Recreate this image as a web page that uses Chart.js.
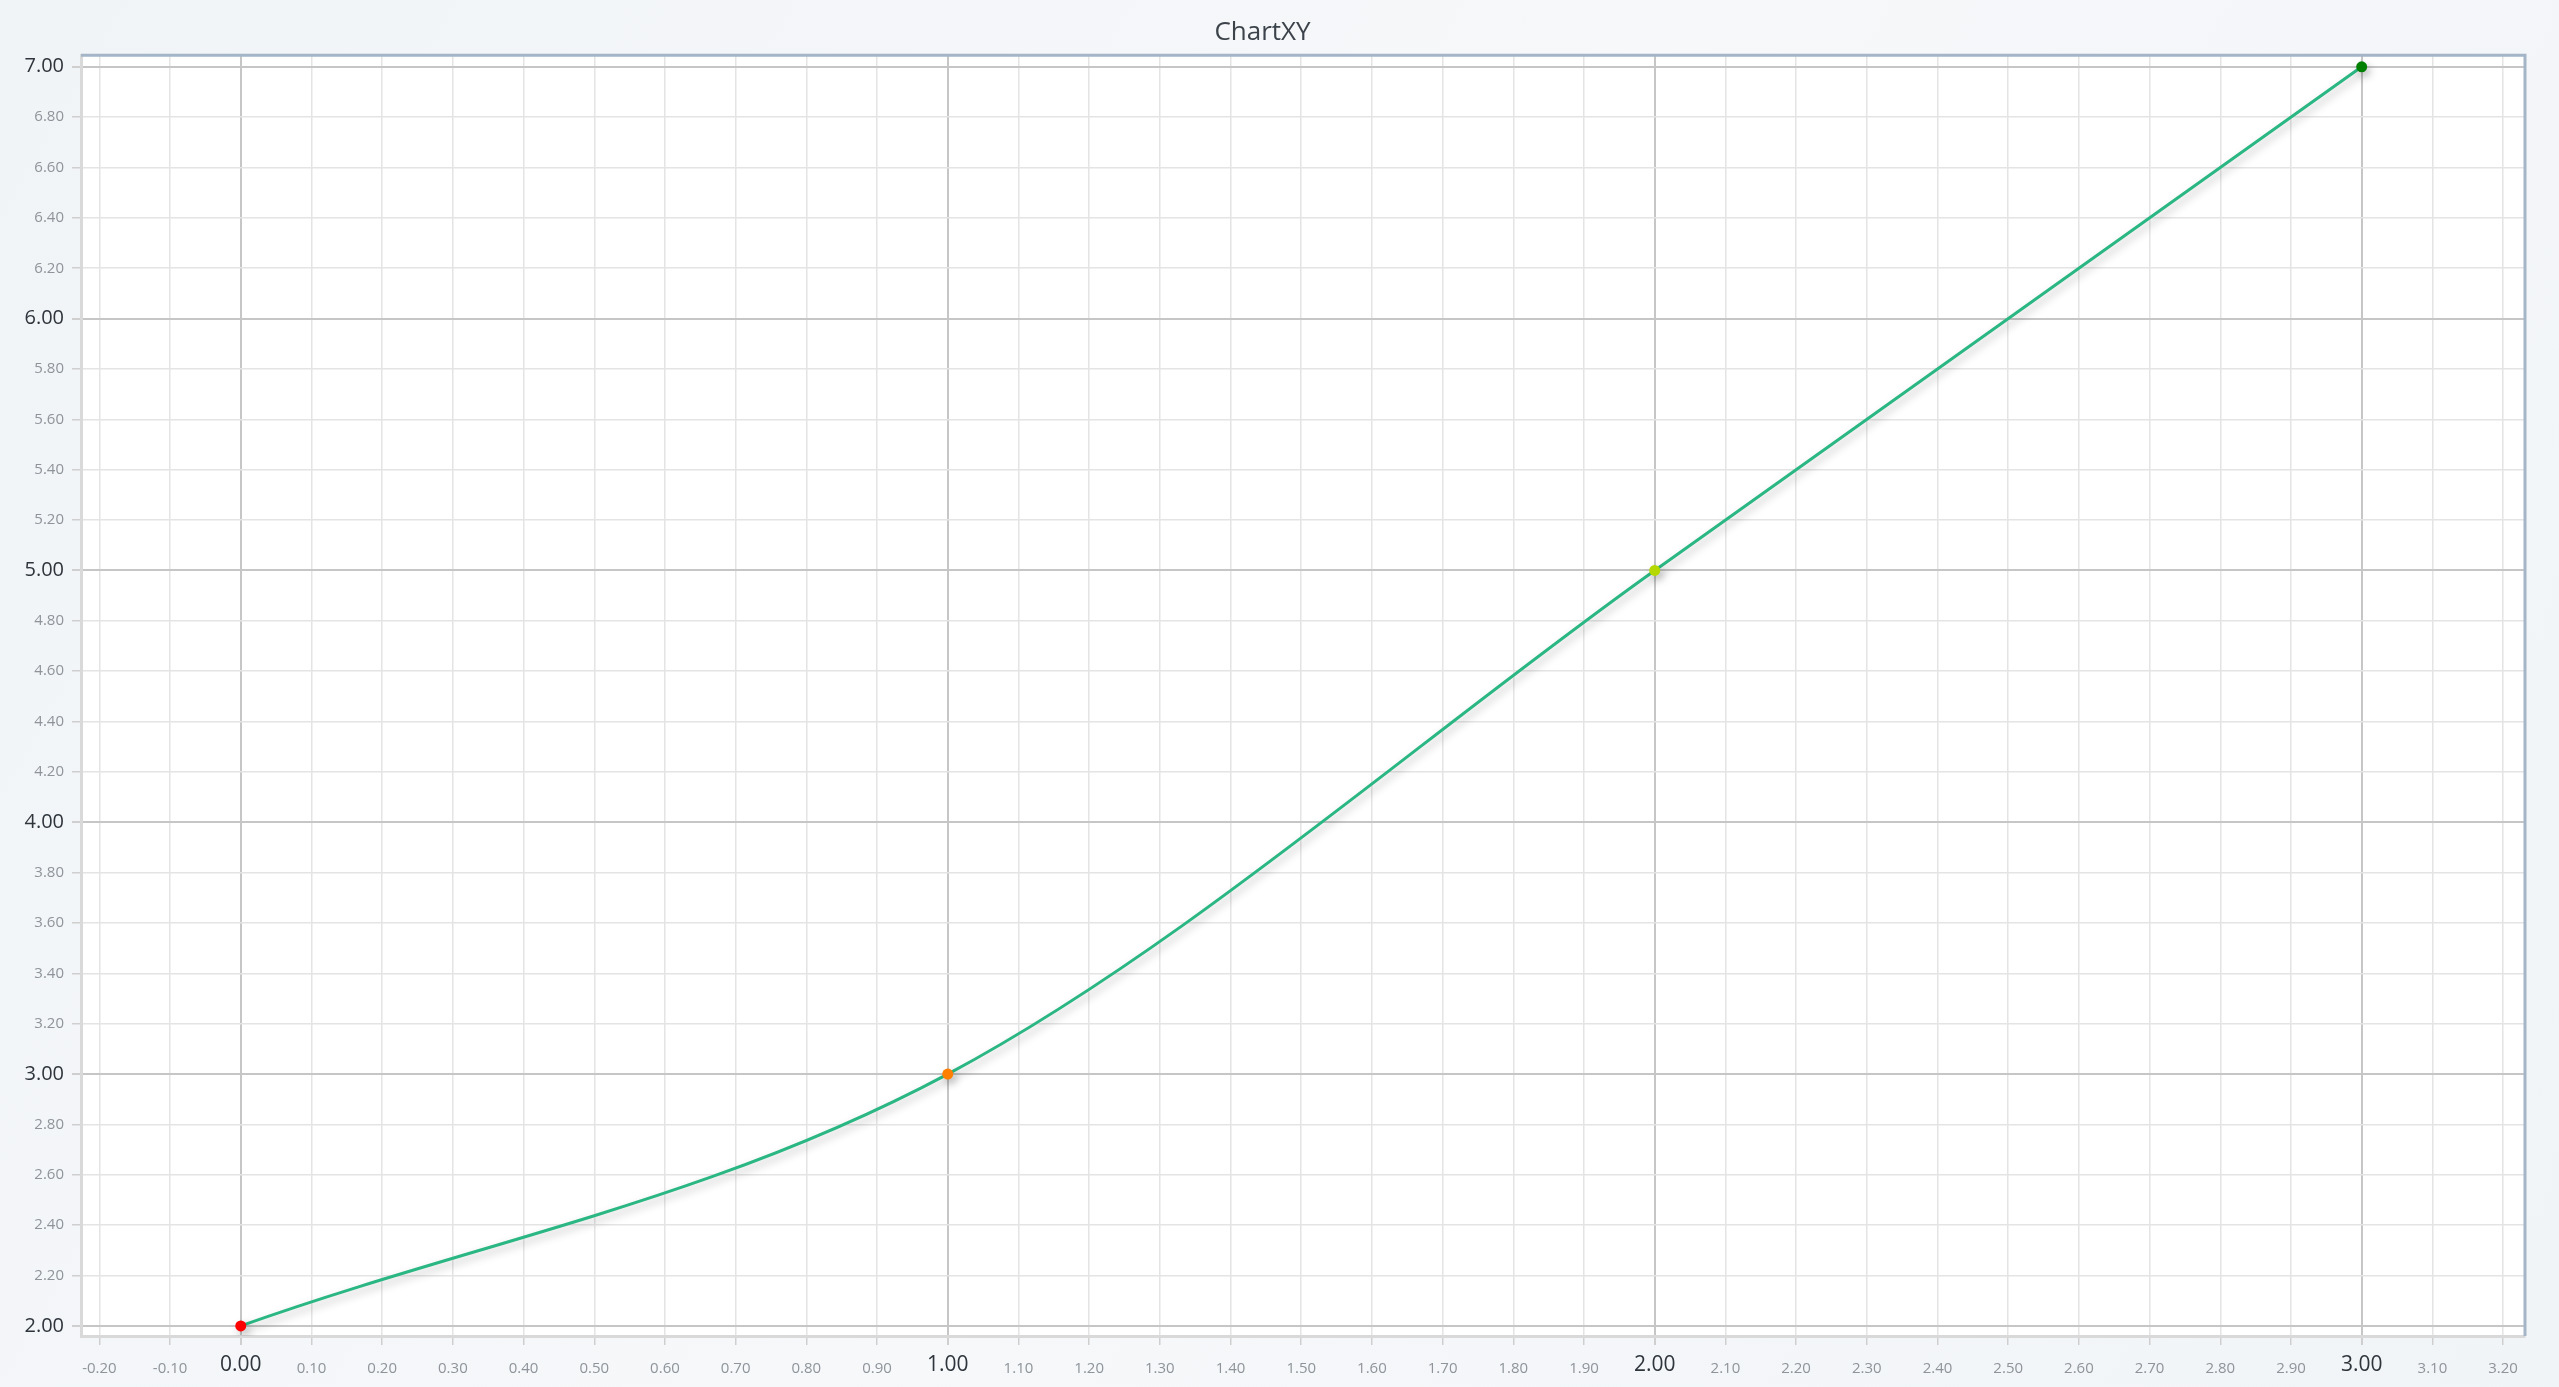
<!DOCTYPE html>
<html>
<head>
<meta charset="utf-8">
<script src="https://cdn.jsdelivr.net/npm/chart.js@4"></script>
<style>
  html, body { margin: 0; padding: 0; width: 100%; height: 100%; overflow: hidden; }
  body { background: linear-gradient(120deg, #f1f4f7 0%, #f6f8fa 50%, #f1f4f7 100%); }
  #wrap { position: absolute; left: 0; top: 0; width: 2559px; height: 1387px; }
</style>
</head>
<body>
<div id="wrap"><canvas id="chartXY"></canvas></div>
<script>
// データ
const xValues = [0, 1, 2, 3];
const yValues = [2, 3, 5, 7];
const pointColors = ["#ff0000", "#ff8000", "#b4d800", "#008000"];

// 目盛り
const xTicks = [-0.2, -0.1, 0, 0.1, 0.2, 0.3, 0.4, 0.5, 0.6, 0.7, 0.8, 0.9, 1, 1.1, 1.2, 1.3, 1.4, 1.5,
  1.6, 1.7, 1.8, 1.9, 2, 2.1, 2.2, 2.3, 2.4, 2.5, 2.6, 2.7, 2.8, 2.9, 3, 3.1, 3.2];
const yTicks = [2, 2.2, 2.4, 2.6, 2.8, 3, 3.2, 3.4, 3.6, 3.8, 4, 4.2, 4.4, 4.6, 4.8, 5,
  5.2, 5.4, 5.6, 5.8, 6, 6.2, 6.4, 6.6, 6.8, 7];

const isMajor = (v) => Math.abs(v - Math.round(v)) < 1e-6;
const fontFamily = "'Open Sans', 'Noto Sans', sans-serif";

// 線の影
const lineShadow = {
  id: "lineShadow",
  beforeDatasetDraw(chart) {
    const ctx = chart.ctx;
    ctx.save();
    ctx.shadowColor = "rgba(0,0,0,0.25)";
    ctx.shadowBlur = 8;
    ctx.shadowOffsetX = 3;
    ctx.shadowOffsetY = 4;
  },
  afterDatasetDraw(chart) {
    chart.ctx.restore();
  },
};

// 白い背景と上・右の枠線
const plotFrame = {
  id: "plotFrame",
  beforeDraw(chart) {
    const { ctx, chartArea: a } = chart;
    ctx.save();
    ctx.fillStyle = "#ffffff";
    ctx.fillRect(a.left, a.top, a.right - a.left, a.bottom - a.top);
    ctx.restore();
  },
  afterDraw(chart) {
    const { ctx, chartArea: a } = chart;
    ctx.save();
    ctx.strokeStyle = "#a3b5c7";
    ctx.lineWidth = 3;
    ctx.beginPath();
    ctx.moveTo(a.left, a.top);
    ctx.lineTo(a.right, a.top);
    ctx.lineTo(a.right, a.bottom);
    ctx.stroke();
    ctx.restore();
  },
};

const config = {
  type: "line",
  data: {
    datasets: [
      {
        label: "ChartXY",
        data: xValues.map((x, i) => ({ x: x, y: yValues[i] })),
        borderColor: "#2bb784",
        borderWidth: 3,
        cubicInterpolationMode: "monotone",
        pointRadius: 5.5,
        pointBorderWidth: 0,
        pointBackgroundColor: pointColors,
        pointBorderColor: pointColors,
        fill: false,
      },
    ],
  },
  options: {
    responsive: true,
    maintainAspectRatio: false,
    animation: false,
    layout: {
      padding: { left: 0, right: 34, top: 0, bottom: 0 },
    },
    plugins: {
      legend: { display: false },
      tooltip: { enabled: false },
      title: {
        display: true,
        text: "ChartXY",
        color: "#3c434b",
        font: { family: fontFamily, size: 26, weight: "normal" },
        padding: { top: 17, bottom: 7 },
      },
    },
    scales: {
      x: {
        type: "linear",
        min: -0.226,
        max: 3.231,
        afterBuildTicks: (axis) => {
          axis.ticks = xTicks.map((v) => ({ value: v }));
        },
        afterFit: (axis) => {
          axis.height = 51;
        },
        border: { color: "#d9d9d9", width: 3 },
        grid: {
          color: (ctx) => (ctx.tick && isMajor(ctx.tick.value) ? "#c6c6c6" : "#e4e4e4"),
          lineWidth: (ctx) => (ctx.tick && isMajor(ctx.tick.value) ? 2 : 1.5),
          tickLength: 9,
          tickColor: "#cfcfcf",
        },
        ticks: {
          autoSkip: false,
          maxRotation: 0,
          padding: 20,
          crossAlign: "center",
          callback: (v) => Number(v).toFixed(2),
          color: (ctx) => (isMajor(ctx.tick.value) ? "#2f353c" : "#8e949a"),
          font: (ctx) => ({
            family: fontFamily,
            size: ctx.tick && isMajor(ctx.tick.value) ? 21 : 15,
          }),
        },
      },
      y: {
        type: "linear",
        min: 1.96,
        max: 7.046,
        afterBuildTicks: (axis) => {
          axis.ticks = yTicks.map((v) => ({ value: v }));
        },
        afterFit: (axis) => {
          axis.width = 81;
        },
        border: { color: "#d9d9d9", width: 3 },
        grid: {
          color: (ctx) => (ctx.tick && isMajor(ctx.tick.value) ? "#c6c6c6" : "#e4e4e4"),
          lineWidth: (ctx) => (ctx.tick && isMajor(ctx.tick.value) ? 2 : 1.5),
          tickLength: 9,
          tickColor: "#cfcfcf",
        },
        ticks: {
          autoSkip: false,
          padding: 8,
          callback: (v) => Number(v).toFixed(2),
          color: (ctx) => (isMajor(ctx.tick.value) ? "#2f353c" : "#8e949a"),
          font: (ctx) => ({
            family: fontFamily,
            size: ctx.tick && isMajor(ctx.tick.value) ? 20 : 15,
          }),
        },
      },
    },
  },
  plugins: [lineShadow, plotFrame],
};

const canvas = document.getElementById("chartXY");
const chartXY = new Chart(canvas, config);
</script>
</body>
</html>
